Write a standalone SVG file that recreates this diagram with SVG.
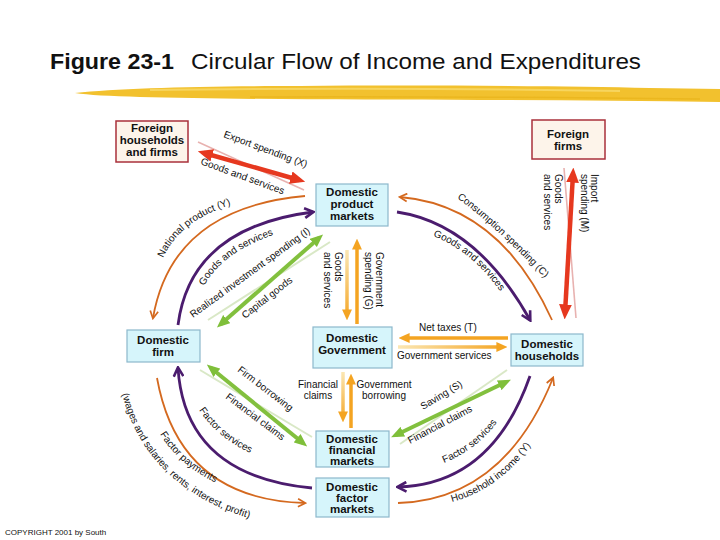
<svg xmlns="http://www.w3.org/2000/svg" width="720" height="540" viewBox="0 0 720 540">
<defs>
<style>
text{font-family:"Liberation Sans",Arial,sans-serif;fill:#111}
.nt{font-size:11.5px;font-weight:bold;text-anchor:middle}
.lb{font-size:10px}
.dom{fill:#d6f5fb;stroke:#8cb8cc;stroke-width:1.2}
.for{fill:#fdf4ea;stroke:#a9303b;stroke-width:1.5}
.or{fill:none;stroke:#d4691f;stroke-width:1.8}
.pu{fill:none;stroke:#4b1c6e;stroke-width:2.8}
.gr{fill:none;stroke:#82c03e;stroke-width:4}
.grt{fill:none;stroke:#d9e8c6;stroke-width:2}
.rd{fill:none;stroke:#e6381f;stroke-width:4.5}
.rdt{fill:none;stroke:#e8b2b0;stroke-width:1.6}
.go{fill:none;stroke:#f4a422;stroke-width:3.5}
</style>
<marker id="hO" viewBox="0 0 10 10" refX="8" refY="5" markerWidth="10" markerHeight="10" markerUnits="userSpaceOnUse" orient="auto"><path d="M1,1 L8.5,5 L1,9" fill="none" stroke="#d4691f" stroke-width="1.7"/></marker>
<marker id="hP" viewBox="0 0 10 10" refX="8" refY="5" markerWidth="12" markerHeight="12" markerUnits="userSpaceOnUse" orient="auto"><path d="M1,1 L8.5,5 L1,9" fill="none" stroke="#4b1c6e" stroke-width="2.2"/></marker>
<marker id="gE" viewBox="0 0 12 10" refX="7" refY="5" markerWidth="13" markerHeight="11" markerUnits="userSpaceOnUse" orient="auto"><path d="M0,0 L12,5 L0,10 z" fill="#7fbf3a"/></marker>
<marker id="gS" viewBox="0 0 12 10" refX="5" refY="5" markerWidth="13" markerHeight="11" markerUnits="userSpaceOnUse" orient="auto"><path d="M12,0 L0,5 L12,10 z" fill="#7fbf3a"/></marker>
<marker id="rE" viewBox="0 0 14 12" refX="8" refY="6" markerWidth="15" markerHeight="13" markerUnits="userSpaceOnUse" orient="auto"><path d="M0,0 L14,6 L0,12 z" fill="#e6381f"/></marker>
<marker id="rS" viewBox="0 0 14 12" refX="6" refY="6" markerWidth="15" markerHeight="13" markerUnits="userSpaceOnUse" orient="auto"><path d="M14,0 L0,6 L14,12 z" fill="#e6381f"/></marker>
<marker id="yE" viewBox="0 0 10 9" refX="6" refY="4.5" markerWidth="11" markerHeight="10" markerUnits="userSpaceOnUse" orient="auto"><path d="M0,0 L10,4.5 L0,9 z" fill="#f4a422"/></marker>
<linearGradient id="gd1" gradientUnits="userSpaceOnUse" x1="0" y1="250" x2="0" y2="320"><stop offset="0" stop-color="#fbe7b4"/><stop offset="1" stop-color="#f4a422"/></linearGradient>
<linearGradient id="gd2" gradientUnits="userSpaceOnUse" x1="398" y1="0" x2="505" y2="0"><stop offset="0" stop-color="#fbe7b4"/><stop offset="1" stop-color="#f4a422"/></linearGradient>
<linearGradient id="gd3" gradientUnits="userSpaceOnUse" x1="0" y1="372" x2="0" y2="423"><stop offset="0" stop-color="#fbe7b4"/><stop offset="1" stop-color="#f4a422"/></linearGradient>
<path id="p1" d="M163,258 Q183,214 252,199"/>
<path id="p2" d="M204,286 Q226,246 296,228"/>
<path id="p7" d="M457,198 Q495,225 556,290"/>
<path id="p8" d="M433,236 Q475,252 506,300"/>
<path id="p11" d="M444,463 Q480,448 500,418"/>
<path id="p12" d="M452,502 Q503,488 536,438"/>
<path id="p15" d="M199,410 Q220,442 262,458"/>
<path id="p16" d="M160,434 Q182,470 228,488"/>
<path id="p17" d="M122,394 Q150,500 280,526"/>
</defs>
<rect width="720" height="540" fill="#ffffff"/>

<g id="title">
<text x="50" y="69" font-size="22" font-weight="bold" textLength="124" lengthAdjust="spacingAndGlyphs">Figure 23-1</text>
<text x="191" y="69" font-size="22" textLength="450" lengthAdjust="spacingAndGlyphs">Circular Flow of  Income and Expenditures</text>
<path d="M75,93 C120,88 200,86 300,86 C420,85 560,86 650,88 L720,89 L720,102 C640,101 560,100 480,100 C360,100 220,99 140,97 C110,96 88,95 75,93 Z" fill="#f2c12e"/>
<path d="M150,90 C300,88 450,88 620,91" stroke="#f8d96a" stroke-width="2" fill="none" opacity="0.8"/>
<path d="M250,97 C400,96 520,97 700,99" stroke="#e9b41c" stroke-width="1.5" fill="none" opacity="0.8"/>
</g>

<g id="connectors">
<line class="rdt" x1="198" y1="142" x2="304" y2="190"/>
<line class="rd" x1="204" y1="153" x2="299" y2="180" marker-start="url(#rS)" marker-end="url(#rE)"/>
<line class="rdt" x1="564" y1="168" x2="576" y2="318"/>
<line class="rd" x1="573" y1="174" x2="565" y2="313" marker-start="url(#rS)" marker-end="url(#rE)"/>
<path class="or" d="M305,196 Q172,208 153,318" marker-end="url(#hO)"/>
<path class="pu" d="M178,325 Q190.5,227.5 313,212" marker-end="url(#hP)"/>
<path class="or" d="M552,320 Q500,205.5 400,197" marker-end="url(#hO)"/>
<path class="pu" d="M397,212 Q476.5,224 530,320" marker-end="url(#hP)"/>
<path class="pu" d="M530,376 Q492,484.5 398,487" marker-end="url(#hP)"/>
<path class="or" d="M398,503 Q504.5,499.5 553,378" marker-end="url(#hO)"/>
<path class="pu" d="M312,488 Q185,476 178,368" marker-end="url(#hP)"/>
<path class="or" d="M157,378 Q179,499.5 305,503" marker-end="url(#hO)"/>
<line class="grt" x1="208" y1="320" x2="330" y2="242"/>
<line class="gr" x1="221" y1="324" x2="319" y2="238" marker-start="url(#gS)" marker-end="url(#gE)"/>
<line class="go" x1="357" y1="324" x2="357" y2="243" marker-end="url(#yE)"/>
<line x1="347" y1="250" x2="347" y2="316" stroke="url(#gd1)" stroke-width="3.5" marker-end="url(#yE)"/>
<line class="go" x1="508" y1="338" x2="403" y2="338" marker-end="url(#yE)"/>
<line x1="398" y1="347" x2="503" y2="347" stroke="url(#gd2)" stroke-width="3.5" marker-end="url(#yE)"/>
<line class="go" x1="351" y1="428" x2="351" y2="378" marker-end="url(#yE)"/>
<line x1="343" y1="372" x2="343" y2="418" stroke="url(#gd3)" stroke-width="3.5" marker-end="url(#yE)"/>
<line class="grt" x1="400" y1="444" x2="507" y2="370"/>
<line class="gr" x1="396" y1="435" x2="506" y2="382" marker-start="url(#gS)" marker-end="url(#gE)"/>
<line class="grt" x1="200" y1="370" x2="312" y2="437"/>
<line class="gr" x1="211" y1="368" x2="303" y2="443" marker-start="url(#gS)" marker-end="url(#gE)"/>
</g>

<g id="labels">
<text class="lb" transform="translate(223,137) rotate(20.3)">Export spending (X)</text>
<text class="lb" transform="translate(200,164) rotate(20.2)">Goods and services</text>
<text class="lb" transform="translate(591,174) rotate(90)">Import</text>
<text class="lb" transform="translate(581,174) rotate(90)">spending (M)</text>
<text class="lb" transform="translate(555,174) rotate(90)">Goods</text>
<text class="lb" transform="translate(544,174) rotate(90)">and services</text>
<text class="lb"><textPath href="#p1">National product (Y)</textPath></text>
<text class="lb"><textPath href="#p2">Goods and services</textPath></text>
<text class="lb" transform="translate(193,318) rotate(-36)">Realized investment spending (I)</text>
<text class="lb" transform="translate(245,319) rotate(-38)">Capital goods</text>
<text class="lb" transform="translate(376,252) rotate(90)">Government</text>
<text class="lb" transform="translate(365,252) rotate(90)">spending (G)</text>
<text class="lb" transform="translate(335,252) rotate(90)">Goods</text>
<text class="lb" transform="translate(324,252) rotate(90)">and services</text>
<text class="lb"><textPath href="#p7">Consumption spending (C)</textPath></text>
<text class="lb"><textPath href="#p8">Goods and services</textPath></text>
<text class="lb" x="419" y="331">Net taxes (T)</text>
<text class="lb" x="397" y="359">Government services</text>
<text class="lb" x="318" y="388" text-anchor="middle">Financial</text>
<text class="lb" x="318" y="399" text-anchor="middle">claims</text>
<text class="lb" x="384" y="388" text-anchor="middle">Government</text>
<text class="lb" x="384" y="399" text-anchor="middle">borrowing</text>
<text class="lb" transform="translate(423,410) rotate(-31)">Saving (S)</text>
<text class="lb" transform="translate(410,444) rotate(-27.6)">Financial claims</text>
<text class="lb" transform="translate(237,371) rotate(37.5)">Firm borrowing</text>
<text class="lb" transform="translate(225,398) rotate(37)">Financial claims</text>
<text class="lb" font-size="9"><textPath href="#p11">Factor services</textPath></text>
<text class="lb" font-size="9"><textPath href="#p12">Household income (Y)</textPath></text>
<text class="lb"><textPath href="#p15">Factor services</textPath></text>
<text class="lb"><textPath href="#p16">Factor payments</textPath></text>
<text class="lb" font-size="9.5"><textPath href="#p17">(wages and salaries, rents, interest, profit)</textPath></text>
</g>

<g id="foreign-households">
<rect class="for" x="116" y="121" width="72" height="41"/>
<text class="nt" x="152" y="132">Foreign</text>
<text class="nt" x="152" y="144">households</text>
<text class="nt" x="152" y="156">and firms</text>
</g>
<g id="foreign-firms">
<rect class="for" x="532" y="120" width="73" height="39"/>
<text class="nt" x="568" y="138">Foreign</text>
<text class="nt" x="568" y="150">firms</text>
</g>
<g id="product-markets">
<rect class="dom" x="316" y="184" width="72" height="42"/>
<text class="nt" x="352" y="196">Domestic</text>
<text class="nt" x="352" y="208">product</text>
<text class="nt" x="352" y="220">markets</text>
</g>
<g id="domestic-firm">
<rect class="dom" x="127" y="330" width="73" height="32"/>
<text class="nt" x="163" y="344">Domestic</text>
<text class="nt" x="163" y="356">firm</text>
</g>
<g id="government">
<rect class="dom" x="313" y="327" width="79" height="41"/>
<text class="nt" x="352" y="342">Domestic</text>
<text class="nt" x="352" y="354">Government</text>
</g>
<g id="households">
<rect class="dom" x="511" y="334" width="72" height="32"/>
<text class="nt" x="547" y="348">Domestic</text>
<text class="nt" x="547" y="360">households</text>
</g>
<g id="financial-markets">
<rect class="dom" x="316" y="431" width="73" height="36"/>
<text class="nt" x="352" y="443">Domestic</text>
<text class="nt" x="352" y="454">financial</text>
<text class="nt" x="352" y="465">markets</text>
</g>
<g id="factor-markets">
<rect class="dom" x="316" y="478" width="73" height="39"/>
<text class="nt" x="352" y="491">Domestic</text>
<text class="nt" x="352" y="502">factor</text>
<text class="nt" x="352" y="513">markets</text>
</g>

<text x="5" y="535" font-size="8">COPYRIGHT 2001 by South</text>
</svg>
